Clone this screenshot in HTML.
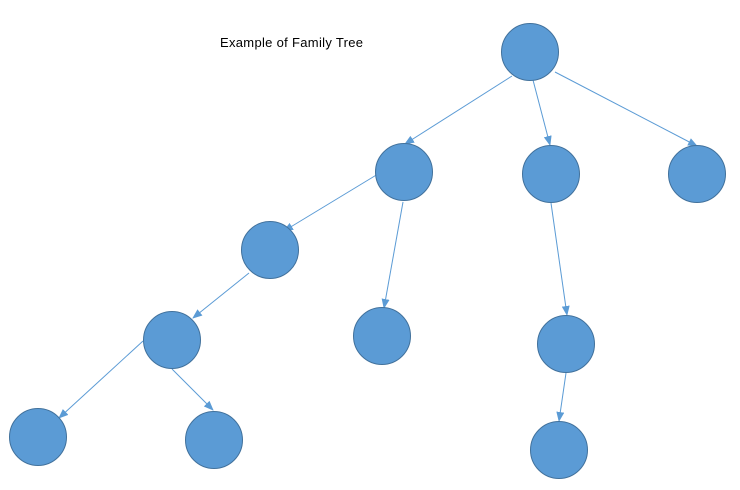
<!DOCTYPE html>
<html><head><style>
html,body{margin:0;padding:0;background:#fff;}
svg{display:block;}
</style></head><body>
<svg width="740" height="490" xmlns="http://www.w3.org/2000/svg">
<defs>
<marker id="a" markerWidth="10" markerHeight="8" refX="9" refY="4" orient="auto" markerUnits="userSpaceOnUse">
<path d="M0,0 L10,4 L0,8 Z" fill="#5B9BD5"/>
</marker>
</defs>
<g stroke="#5B9BD5" stroke-width="1" marker-end="url(#a)">
<line x1="512" y1="76" x2="405" y2="144"/>
<line x1="533" y1="80" x2="550" y2="145"/>
<line x1="555" y1="72" x2="697" y2="146"/>
<line x1="378" y1="174" x2="284" y2="231"/>
<line x1="403" y1="202" x2="384" y2="308"/>
<line x1="551" y1="203" x2="567" y2="315"/>
<line x1="249" y1="273" x2="193" y2="318"/>
<line x1="143" y1="341" x2="59" y2="418"/>
<line x1="172" y1="369" x2="213" y2="410"/>
<line x1="566" y1="373" x2="559" y2="421"/>
</g>
<g fill="#5B9BD5" stroke="#41719C" stroke-width="1">
<circle cx="530" cy="52" r="28.5"/>
<circle cx="404" cy="172" r="28.5"/>
<circle cx="551" cy="174" r="28.5"/>
<circle cx="697" cy="174" r="28.5"/>
<circle cx="270" cy="250" r="28.5"/>
<circle cx="382" cy="336" r="28.5"/>
<circle cx="566" cy="344" r="28.5"/>
<circle cx="172" cy="340" r="28.5"/>
<circle cx="38" cy="437" r="28.5"/>
<circle cx="214" cy="440" r="28.5"/>
<circle cx="559" cy="450" r="28.5"/>
</g>
<text x="220" y="47" font-family="Liberation Sans, sans-serif" font-size="13" fill="#000" textLength="143">Example of Family Tree</text>
</svg>
</body></html>
